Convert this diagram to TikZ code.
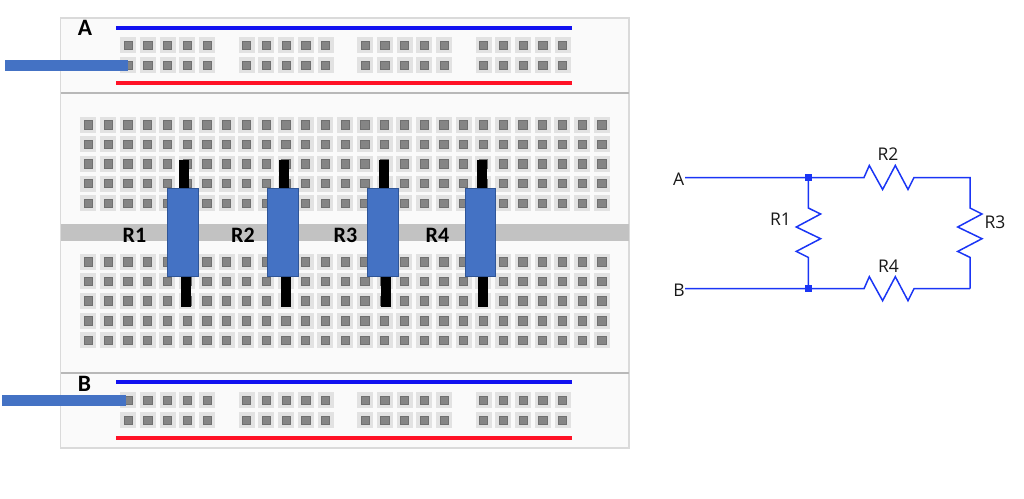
\documentclass[tikz,border=0pt]{standalone}
\usepackage{fontspec}
\setmainfont{Open Sans}
\newfontfamily\bbfont[BoldFont=Carlito Bold]{Carlito}
\definecolor{boardbg}{HTML}{FAFAFA}
\definecolor{boardedge}{HTML}{DADADA}
\definecolor{divider}{HTML}{B8B8B8}
\definecolor{stripc}{HTML}{C2C2C2}
\definecolor{holeout}{HTML}{E2E2E2}
\definecolor{holein}{HTML}{858585}
\definecolor{holeedge}{HTML}{707070}
\definecolor{bodyblue}{HTML}{4472C4}
\definecolor{bodyedge}{HTML}{2F5597}
\definecolor{railblue}{HTML}{1212F0}
\definecolor{railred}{HTML}{FF1226}
\definecolor{circ}{HTML}{1A35F5}
\tikzset{
  holeo/.style={fill=holeout,draw=none,minimum size=16pt,inner sep=0pt,outer sep=0pt},
  holei/.style={fill=holein,draw=holeedge,line width=0.6pt,minimum size=8.4pt,inner sep=0pt,outer sep=0pt},
  rail/.style={line width=3.6pt},
  jumper/.style={fill=bodyblue,draw=none,inner sep=0pt,outer sep=0pt,minimum height=11pt},
  lead/.style={fill=black,draw=none,inner sep=0pt,outer sep=0pt,minimum width=10pt},
  rbody/.style={fill=bodyblue,draw=bodyedge,line width=1.1pt,inner sep=0pt,outer sep=0pt,minimum width=30.5pt,minimum height=88.5pt},
  boardlabel/.style={font=\bbfont\bfseries\fontsize{22}{22}\selectfont,text=black,inner sep=0pt},
  biglabel/.style={font=\bbfont\bfseries\fontsize{23.5}{24}\selectfont,text=black,inner sep=0pt},
  circlabel/.style={font=\fontsize{17.5}{18}\selectfont,text=black!90,inner sep=0pt},
  wire/.style={draw=circ,line width=1.5pt,line join=miter},
  junction/.style={fill=circ,draw=none,minimum size=7.5pt,inner sep=0pt,outer sep=0pt}
}
\newcommand{\hole}[2]{\node[holeo] at (#1,#2) {};\node[holei] at (#1,#2) {};}
\begin{document}
\begin{tikzpicture}[x=1pt,y=-1pt]
\useasboundingbox (0,0) rectangle (1024,498);
% board
\fill[boardbg] (60.5,18) rectangle (629,448);
\draw[boardedge,line width=1.4pt] (60.5,18) rectangle (629,448);
\draw[divider,line width=1.4pt] (60.5,93) -- (629,93);
\draw[divider,line width=1.4pt] (60.5,373) -- (629,373);
\fill[stripc] (60.5,224) rectangle (629,240.5);
% main holes
\foreach \c in {0,...,26}{
  \pgfmathsetmacro{\hx}{88.3+19.75*\c}
  \foreach \hy in {124.7,144.3,163.9,183.5,203,261.7,281.3,300.9,320.6,340.4}{
    \hole{\hx}{\hy}
  }
}
% rail holes
\foreach \g in {0,1,2,3}{
  \foreach \c in {0,...,4}{
    \pgfmathsetmacro{\hx}{128+19.75*(6*\g+\c)}
    \foreach \hy in {45,65,400,420}{
      \hole{\hx}{\hy}
    }
  }
}
% rails
\coordinate (bt1) at (116,28); \coordinate (bt2) at (572,28);
\coordinate (rt1) at (116,83); \coordinate (rt2) at (572,83);
\coordinate (bb1) at (116,382); \coordinate (bb2) at (572,382);
\coordinate (rb1) at (116,438); \coordinate (rb2) at (572,438);
\draw[rail,railblue] (bt1) -- (bt2);
\draw[rail,railred] (rt1) -- (rt2);
\draw[rail,railblue] (bb1) -- (bb2);
\draw[rail,railred] (rb1) -- (rb2);
% jumpers
\node[jumper,minimum width=123pt] (wa) at (66.5,65.8) {};
\node[jumper,minimum width=123.5pt] (wb) at (63.8,400.5) {};
% resistor leads
\foreach \n/\t/\b in {a/184.2/186,b/284.2/286,c/384.2/386,d/481.5/483.3}{
  \node[lead,minimum height=30pt] (lt\n) at (\t,175) {};
  \node[lead,minimum height=32pt] (lb\n) at (\b,291) {};
}
% resistor bodies
\node[rbody] (b1) at (183,232.5) {};
\node[rbody] (b2) at (283.1,232.5) {};
\node[rbody] (b3) at (383.1,232.5) {};
\node[rbody] (b4) at (480.4,232.5) {};
% board labels
\node[biglabel] (la) at (85,28) {A};
\node[biglabel] (lb) at (84.5,384) {B};
\node[boardlabel] (l1) at (134.5,235.5) {R1};
\node[boardlabel] (l2) at (243,235.5) {R2};
\node[boardlabel] (l3) at (345.5,235.5) {R3};
\node[boardlabel] (l4) at (437.5,235.5) {R4};
% circuit
\coordinate (sa) at (685,177.5);
\coordinate (sb) at (685,288.7);
\node[junction] (ja) at (808.3,177.5) {};
\node[junction] (jb) at (808.3,288.7) {};
\coordinate (ca) at (970,177.5);
\coordinate (cb) at (970,288.7);
\draw[wire] (sa) -- (ja.center) -- ++(0,30.5) -- ++(12.3,6) -- ++(-24.3,13) -- ++(24.3,11.7) -- ++(-24.3,12.7) -- ++(12,6) -- (jb.center) -- (sb);
\draw[wire] (ja.center) -- ++(55.7,0) -- ++(5.3,-12) -- ++(13.3,24) -- ++(12.7,-24) -- ++(12.7,24) -- ++(6,-12) -- (ca)
  -- ++(0,30.5) -- ++(12,6) -- ++(-24.3,13) -- ++(24.3,11.7) -- ++(-24.3,12.7) -- ++(12.3,6) -- (cb);
\draw[wire] (jb.center) -- ++(55.7,0) -- ++(5.3,-12) -- ++(13.3,24) -- ++(12.7,-24) -- ++(12.7,24) -- ++(6,-12) -- (cb);
\node[circlabel] (ta) at (678.7,179.5) {A};
\node[circlabel] (tb) at (679,290) {B};
\node[circlabel] (t1) at (780.5,219) {R1};
\node[circlabel] (t2) at (888,154.5) {R2};
\node[circlabel] (t3) at (995,222.5) {R3};
\node[circlabel] (t4) at (888.5,266) {R4};
\end{tikzpicture}
\end{document}
